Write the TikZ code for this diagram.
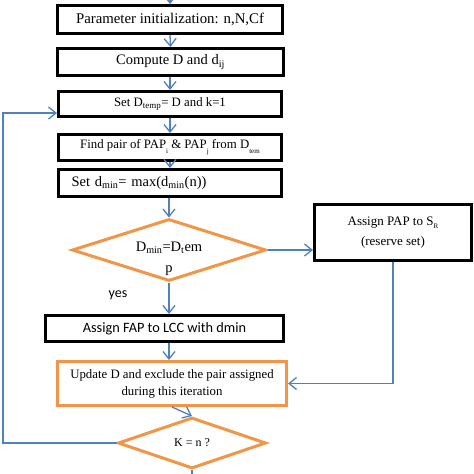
\documentclass[tikz,border=0pt]{standalone}
\usepackage{fontspec}
\setmainfont{Liberation Serif}
\newfontfamily\calibri{Carlito}
\usetikzlibrary{arrows.meta,shapes.geometric}
\definecolor{flowblue}{RGB}{79,129,189}
\definecolor{floworange}{RGB}{241,150,70}
\begin{document}
\begin{tikzpicture}[x=1pt,y=-1pt,
  blackbox/.style={draw=black,line width=3pt,inner sep=0pt,align=center},
  orangebox/.style={draw=floworange,line width=3pt,inner sep=0pt,align=center},
  orangediamond/.style={diamond,draw=floworange,line width=3pt,inner sep=0pt,line join=miter},
  flow/.style={draw=flowblue,line width=1.3pt,-{Straight Barb[length=7.5pt,width=12pt]}},
  txt/.style={inner sep=0pt,align=center}]
\useasboundingbox (0,0) rectangle (474,474);

\node[blackbox,minimum width=225pt,minimum height=28pt,font=\fontsize{14.8}{17}\selectfont] (b1) at (170,19.5) {Parameter initialization: n,N,Cf};
\node[blackbox,minimum width=226pt,minimum height=27pt,font=\fontsize{14.5}{17}\selectfont] (b2) at (170.5,62) {Compute D and d\textsubscript{ij}};
\node[blackbox,minimum width=223pt,minimum height=25pt,font=\fontsize{12.8}{15}\selectfont] (b3) at (170,104) {Set D\textsubscript{temp}= D and k=1};
\node[blackbox,minimum width=223pt,minimum height=26pt,font=\fontsize{12.8}{15}\selectfont] (b4) at (170,147.5) {Find pair of PAP\raisebox{-5pt}{\scriptsize i} \& PAP\raisebox{-5pt}{\scriptsize j} from D\raisebox{-5pt}{\scriptsize tem}};
\node[blackbox,minimum height=27pt,inner xsep=13pt,text width=197pt,align=left,font=\fontsize{14.5}{17}\selectfont] (b5) at (170,183) {Set d\textsubscript{min}= max(d\textsubscript{min}(n))};

\node[orangediamond,minimum width=194pt,minimum height=62pt] (d1) at (169,250) {};
\node[txt,font=\fontsize{14.5}{21}\selectfont] (d1t) at (169,259) {D\textsubscript{min}=D\textsubscript{t}em\\p};

\node[txt,font=\calibri\fontsize{14}{17}\selectfont] (yes) at (118,295) {yes};

\node[blackbox,minimum width=157pt,minimum height=56pt,font=\fontsize{13}{20}\selectfont] (br) at (393,232.5) {Assign PAP to S\raisebox{-3pt}{\scriptsize R}\\(reserve set)};

\node[blackbox,minimum width=238pt,minimum height=26pt,font=\calibri\fontsize{14.3}{17}\selectfont] (b6) at (164.5,328.5) {Assign FAP to LCC with dmin};
\node[orangebox,minimum width=229pt,minimum height=44pt,font=\fontsize{12.8}{17}\selectfont] (b7) at (172,383.5) {Update D and exclude the pair assigned\\during this iteration};

\node[orangediamond,minimum width=148pt,minimum height=51pt,font=\fontsize{12}{14}\selectfont] (d2) at (192,443) {K = n ?};

\coordinate (top) at (170,-6);
\coordinate (fb1) at (3,443);
\coordinate (fb2) at (3,113);
\coordinate (bot) at (192,484);

\draw[flow] (top) -- (b1.north);
\draw[flow] (b1.south) -- (b2.south |- b2.north);
\draw[flow] (b2.south -| b1.south) -- (b3.north);
\draw[flow] (b3.south) -- (b4.north);
\draw[flow] (b4.south) -- (b5.north);
\draw[flow] (b5.south -| d1.north) -- (d1.north);
\draw[flow] (d1.south) -- (d1.south |- b6.north);
\draw[flow] (b6.south -| d1.south) -- (b7.north -| d1.south);
\draw[flow] (d1.east) -- (d1.east -| br.west);
\draw[flow] (br.south) |- (b7.east);
\draw[flow] (b7.south) -- (d2.north);
\draw[flow] (d2.west) -- (fb1) -- (fb2) -- (fb2 -| b3.west);
\draw[flow] (d2.south) -- (bot);
\end{tikzpicture}
\end{document}
